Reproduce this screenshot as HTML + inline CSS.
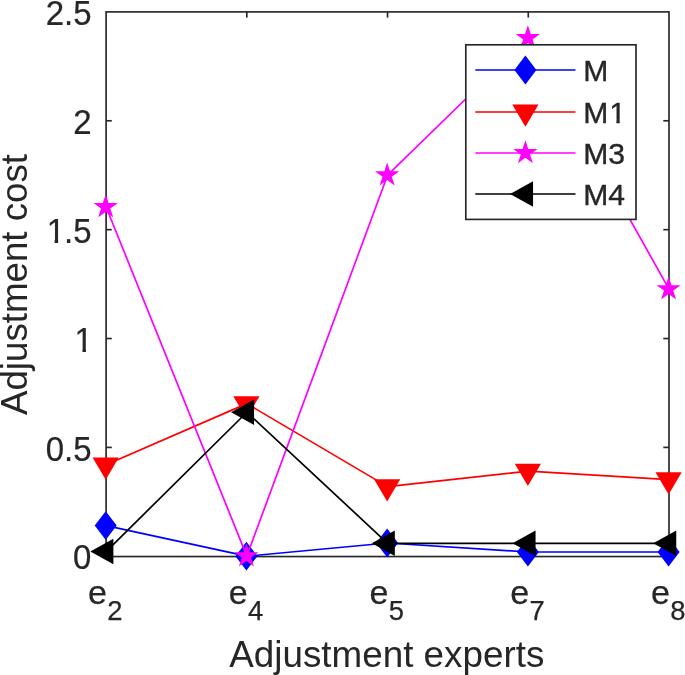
<!DOCTYPE html>
<html lang="en">
<head>
<meta charset="utf-8">
<title>Adjustment cost by adjustment experts</title>
<style>
html,body{margin:0;padding:0;background:#ffffff;}
body{width:685px;height:675px;overflow:hidden;font-family:"Liberation Sans",Arial,Helvetica,sans-serif;}
svg{display:block;}
</style>
</head>
<body>
<svg width="685" height="675" viewBox="0 0 685 675" font-family="'Liberation Sans', Arial, Helvetica, sans-serif" fill="#262626">
<rect x="0" y="0" width="685" height="675" fill="#ffffff"/>
<g stroke="#262626" stroke-width="1.65" fill="none" stroke-linecap="butt">
<rect x="106.1" y="11.9" width="562.9" height="544.65"/>
<line x1="246.82" y1="556.55" x2="246.82" y2="550.85"/>
<line x1="246.82" y1="11.9" x2="246.82" y2="17.6"/>
<line x1="387.55" y1="556.55" x2="387.55" y2="550.85"/>
<line x1="387.55" y1="11.9" x2="387.55" y2="17.6"/>
<line x1="528.27" y1="556.55" x2="528.27" y2="550.85"/>
<line x1="528.27" y1="11.9" x2="528.27" y2="17.6"/>
<line x1="106.1" y1="447.42" x2="111.8" y2="447.42"/>
<line x1="669.0" y1="447.42" x2="663.3" y2="447.42"/>
<line x1="106.1" y1="338.54" x2="111.8" y2="338.54"/>
<line x1="669.0" y1="338.54" x2="663.3" y2="338.54"/>
<line x1="106.1" y1="229.66" x2="111.8" y2="229.66"/>
<line x1="669.0" y1="229.66" x2="663.3" y2="229.66"/>
<line x1="106.1" y1="120.78" x2="111.8" y2="120.78"/>
<line x1="669.0" y1="120.78" x2="663.3" y2="120.78"/>
</g>
<clipPath id="c1"><rect x="-300" y="-300" width="600" height="296.3"/><rect x="-300" y="-3.7" width="282.35" height="6.7"/><rect x="-10.72" y="-6.7" width="3.62" height="11.7"/><rect x="-0.55" y="-3.7" width="300.55" height="6.7"/><rect x="-300" y="3" width="600" height="297"/></clipPath><clipPath id="c15"><rect x="-300" y="-300" width="600" height="296.3"/><rect x="-300" y="-3.7" width="254.76" height="6.7"/><rect x="-38.31" y="-6.7" width="3.62" height="11.7"/><rect x="-28.14" y="-3.7" width="328.14" height="6.7"/><rect x="-300" y="3" width="600" height="297"/></clipPath><clipPath id="cm1"><rect x="-300" y="-300" width="600" height="296.6"/><rect x="-300" y="-3.4" width="327.08" height="6.4"/><rect x="33.14" y="-6.4" width="3.26" height="11.4"/><rect x="42.13" y="-3.4" width="257.87" height="6.4"/><rect x="-300" y="3" width="600" height="297"/></clipPath>
<g font-size="34.2" text-anchor="end" stroke="#262626" stroke-width="0.2">
<text transform="translate(91.3 569.4) scale(0.965 1)">0</text>
<text transform="translate(91.6 460.92) scale(0.965 1)">0.5</text>
<text transform="translate(92.8 351.84) scale(0.965 1)" clip-path="url(#c1)">1</text>
<text transform="translate(91.6 243.16) scale(0.965 1)" text-anchor="start" x="-46.61" clip-path="url(#c15)">1<tspan x="-28.52">.5</tspan></text>
<text transform="translate(91.6 134.28) scale(0.965 1)">2</text>
<text transform="translate(91.6 24.5) scale(0.965 1)">2.5</text>
</g>
<g font-size="34.1" text-anchor="start" stroke="#262626" stroke-width="0.25">
<text x="88" y="603.9">e<tspan font-size="27.4" dx="0.4" dy="16">2</tspan></text>
<text x="228.72" y="603.9">e<tspan font-size="27.4" dx="0.4" dy="16">4</tspan></text>
<text x="369.45" y="603.9">e<tspan font-size="27.4" dx="0.4" dy="16">5</tspan></text>
<text x="510.17" y="603.9">e<tspan font-size="27.4" dx="0.4" dy="16">7</tspan></text>
<text x="650.9" y="603.9">e<tspan font-size="27.4" dx="0.4" dy="16">8</tspan></text>
</g>
<text x="386.8" y="666.6" font-size="36.8" text-anchor="middle">Adjustment experts</text>
<text transform="translate(26.8 284.5) rotate(-90)" font-size="36.7" text-anchor="middle">Adjustment cost</text>
<polyline fill="none" stroke="#0000ff" stroke-width="1.7" stroke-linejoin="round" points="106.1,525.6 246.82,556.19 387.55,543.02 528.27,551.99 669,551.99"/>
<polygon fill="#0000ff" points="105.7,511.2 116.7,525.6 105.7,540 94.7,525.6"/>
<polygon fill="#0000ff" points="246.42,541.79 257.42,556.19 246.42,570.59 235.42,556.19"/>
<polygon fill="#0000ff" points="387.15,528.62 398.15,543.02 387.15,557.42 376.15,543.02"/>
<polygon fill="#0000ff" points="527.88,537.59 538.88,551.99 527.88,566.39 516.88,551.99"/>
<polygon fill="#0000ff" points="668.6,537.59 679.6,551.99 668.6,566.39 657.6,551.99"/>
<polyline fill="none" stroke="#ff0000" stroke-width="1.7" stroke-linejoin="round" points="106.1,464.84 246.82,403.65 387.55,486.62 528.27,471.16 669,479.65"/>
<polygon fill="#ff0000" points="92.6,457.41 118.8,457.41 105.7,479.71"/>
<polygon fill="#ff0000" points="233.32,396.22 259.52,396.22 246.42,418.52"/>
<polygon fill="#ff0000" points="374.05,479.18 400.25,479.18 387.15,501.48"/>
<polygon fill="#ff0000" points="514.77,463.72 540.98,463.72 527.88,486.02"/>
<polygon fill="#ff0000" points="655.5,472.22 681.7,472.22 668.6,494.52"/>
<polyline fill="none" stroke="#ff00ff" stroke-width="1.7" stroke-linejoin="round" points="106.1,207.01 246.82,556.08 387.55,175.22 528.27,38.03 669,289.11"/>
<polygon fill="#ff00ff" points="105.7,194.26 108.56,203.07 117.83,203.07 110.33,208.52 113.19,217.33 105.7,211.88 98.21,217.33 101.07,208.52 93.57,203.07 102.84,203.07"/>
<polygon fill="#ff00ff" points="246.42,543.33 249.29,552.14 258.55,552.14 251.06,557.59 253.92,566.4 246.42,560.95 238.93,566.4 241.79,557.59 234.3,552.14 243.56,552.14"/>
<polygon fill="#ff00ff" points="387.15,162.47 390.01,171.28 399.28,171.28 391.78,176.73 394.64,185.53 387.15,180.09 379.66,185.53 382.52,176.73 375.02,171.28 384.29,171.28"/>
<polygon fill="#ff00ff" points="527.88,25.28 530.74,34.09 540,34.09 532.51,39.54 535.37,48.35 527.88,42.9 520.38,48.35 523.24,39.54 515.75,34.09 525.01,34.09"/>
<polygon fill="#ff00ff" points="668.6,276.36 671.46,285.17 680.73,285.17 673.23,290.61 676.09,299.42 668.6,293.98 661.11,299.42 663.97,290.61 656.47,285.17 665.74,285.17"/>
<polyline fill="none" stroke="#000000" stroke-width="1.7" stroke-linejoin="round" points="106.1,551.62 246.82,412.25 387.55,543.3 528.27,543.3 669,543.3"/>
<polygon fill="#000000" points="113.37,538.87 113.37,564.37 90.37,551.62"/>
<polygon fill="#000000" points="254.09,399.5 254.09,425 231.09,412.25"/>
<polygon fill="#000000" points="394.82,530.55 394.82,556.05 371.82,543.3"/>
<polygon fill="#000000" points="535.54,530.55 535.54,556.05 512.54,543.3"/>
<polygon fill="#000000" points="676.27,530.55 676.27,556.05 653.27,543.3"/>
<rect x="465.8" y="44.8" width="170.2" height="174.6" fill="#ffffff" stroke="#262626" stroke-width="1.65"/>
<line x1="475.3" y1="70.0" x2="575.5" y2="70.0" stroke="#0000ff" stroke-width="1.7"/>
<polygon fill="#0000ff" points="525.4,55.6 536.4,70 525.4,84.4 514.4,70"/>
<text transform="translate(583.3 80.9)" font-size="30.1" stroke="#262626" stroke-width="0.35">M</text>
<line x1="475.3" y1="112.0" x2="575.5" y2="112.0" stroke="#ff0000" stroke-width="1.7"/>
<polygon fill="#ff0000" points="512.3,104.57 538.5,104.57 525.4,126.87"/>
<text transform="translate(583.3 122.9)" font-size="30.1" stroke="#262626" stroke-width="0.35" clip-path="url(#cm1)">M<tspan dx="0.8">1</tspan></text>
<line x1="475.3" y1="153.0" x2="575.5" y2="153.0" stroke="#ff00ff" stroke-width="1.7"/>
<polygon fill="#ff00ff" points="525.4,140.25 528.26,149.06 537.53,149.06 530.03,154.51 532.89,163.31 525.4,157.87 517.91,163.31 520.77,154.51 513.27,149.06 522.54,149.06"/>
<text transform="translate(583.3 163.9)" font-size="30.1" stroke="#262626" stroke-width="0.35">M3</text>
<line x1="475.3" y1="194.0" x2="575.5" y2="194.0" stroke="#000000" stroke-width="1.7"/>
<polygon fill="#000000" points="533.07,181.25 533.07,206.75 510.07,194"/>
<text transform="translate(583.3 204.9)" font-size="30.1" stroke="#262626" stroke-width="0.35">M4</text>
</svg>
</body>
</html>
